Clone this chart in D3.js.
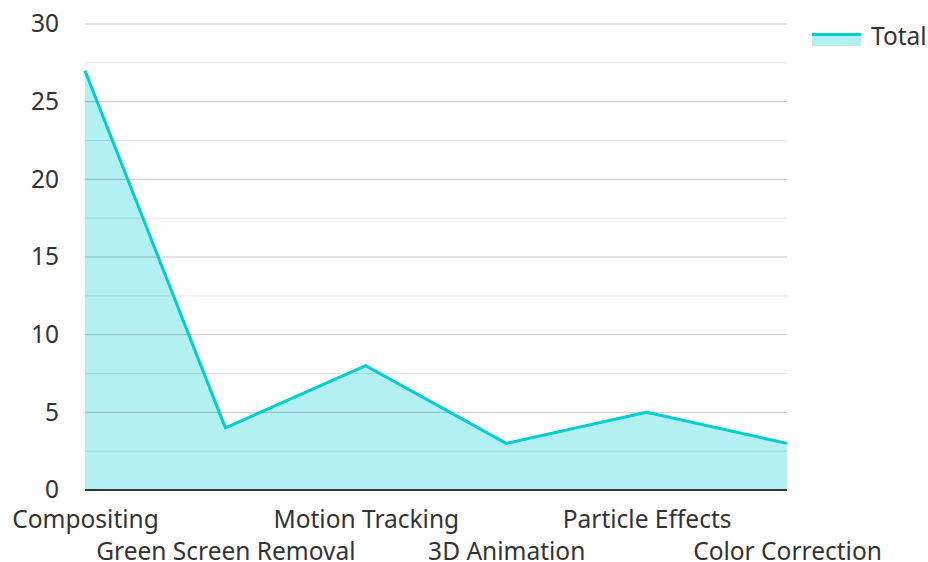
<!DOCTYPE html>
<html>
<head>
<meta charset="utf-8">
<script src="https://cdn.jsdelivr.net/npm/d3@7"></script>
<style>
  body { margin: 0; background: #fff; }
  text { font-family: "Noto Sans", sans-serif; }
</style>
</head>
<body>
<div id="chart"></div>
<script>
// categories and values
var categories = ["Compositing", "Green Screen Removal", "Motion Tracking", "3D Animation", "Particle Effects", "Color Correction"];
var totals = [27, 4, 8, 3, 5, 3];
var yTicks = [0, 5, 10, 15, 20, 25, 30];
var yMinorTicks = [2.5, 7.5, 12.5, 17.5, 22.5, 27.5];
var seriesName = "Total";

var width = 928, height = 562;
var marginLeft = 85, marginRight = 141, marginTop = 24, marginBottom = 72;
var lineColor = "#00ced1";
var fontSize = 24.5;

var svg = d3.select("#chart").append("svg")
    .attr("width", width)
    .attr("height", height)
    .attr("viewBox", [0, 0, width, height]);

var xScale = d3.scalePoint()
    .domain(categories)
    .range([marginLeft, width - marginRight]);

var yScale = d3.scaleLinear()
    .domain([0, 30])
    .range([height - marginBottom, marginTop]);

var data = categories.map((c, i) => ({cat: c, value: totals[i]}));

// area fill
svg.append("path")
    .datum(data)
    .attr("fill", lineColor)
    .attr("fill-opacity", 0.3)
    .attr("d", d3.area()
        .x(d => xScale(d.cat))
        .y0(yScale(0))
        .y1(d => yScale(d.value)));

// minor grid
svg.append("g")
  .selectAll("line")
  .data(yMinorTicks)
  .join("line")
    .attr("x1", marginLeft)
    .attr("x2", width - marginRight)
    .attr("y1", d => yScale(d))
    .attr("y2", d => yScale(d))
    .attr("stroke", "#000")
    .attr("stroke-opacity", 0.1)
    .attr("stroke-width", 1);

// major grid
svg.append("g")
  .selectAll("line")
  .data(yTicks.filter(d => d > 0))
  .join("line")
    .attr("x1", marginLeft)
    .attr("x2", width - marginRight)
    .attr("y1", d => yScale(d))
    .attr("y2", d => yScale(d))
    .attr("stroke", "#000")
    .attr("stroke-opacity", 0.22)
    .attr("stroke-width", 1);

// line
svg.append("path")
    .datum(data)
    .attr("fill", "none")
    .attr("stroke", lineColor)
    .attr("stroke-width", 3)
    .attr("stroke-linejoin", "round")
    .attr("d", d3.line()
        .x(d => xScale(d.cat))
        .y(d => yScale(d.value)));

// y axis labels
var yAxis = d3.axisLeft(yScale).tickValues(yTicks).tickSize(0).tickPadding(26);
svg.append("g")
    .attr("transform", `translate(${marginLeft},0)`)
    .call(yAxis)
    .call(g => g.select(".domain").remove())
    .call(g => g.selectAll("text")
        .attr("font-family", "Noto Sans")
        .attr("font-size", fontSize)
        .attr("fill", "#333"));

// x axis baseline + staggered labels
var xAxis = d3.axisBottom(xScale).tickSize(0).tickPadding(0);
svg.append("g")
    .attr("transform", `translate(0,${yScale(0)})`)
    .call(xAxis)
    .call(g => g.select(".domain")
        .attr("stroke", "#333")
        .attr("stroke-width", 2)
        .attr("d", `M${marginLeft},0H${width - marginRight}`))
    .call(g => g.selectAll("text")
        .attr("font-family", "Noto Sans")
        .attr("font-size", fontSize)
        .attr("fill", "#333")
        .attr("dy", "0.35em")
        .attr("y", (d, i) => i % 2 === 0 ? 29 : 61));

// legend
var legend = svg.append("g").attr("transform", "translate(812,33)");
legend.append("rect")
    .attr("width", 49).attr("height", 13)
    .attr("fill", lineColor).attr("fill-opacity", 0.3);
legend.append("line")
    .attr("x1", 0).attr("x2", 49).attr("y1", 1.5).attr("y2", 1.5)
    .attr("stroke", lineColor).attr("stroke-width", 3);
legend.append("text")
    .attr("x", 59).attr("y", 3)
    .attr("dy", "0.35em")
    .attr("font-size", fontSize)
    .attr("fill", "#333")
    .text(seriesName);
</script>
</body>
</html>
